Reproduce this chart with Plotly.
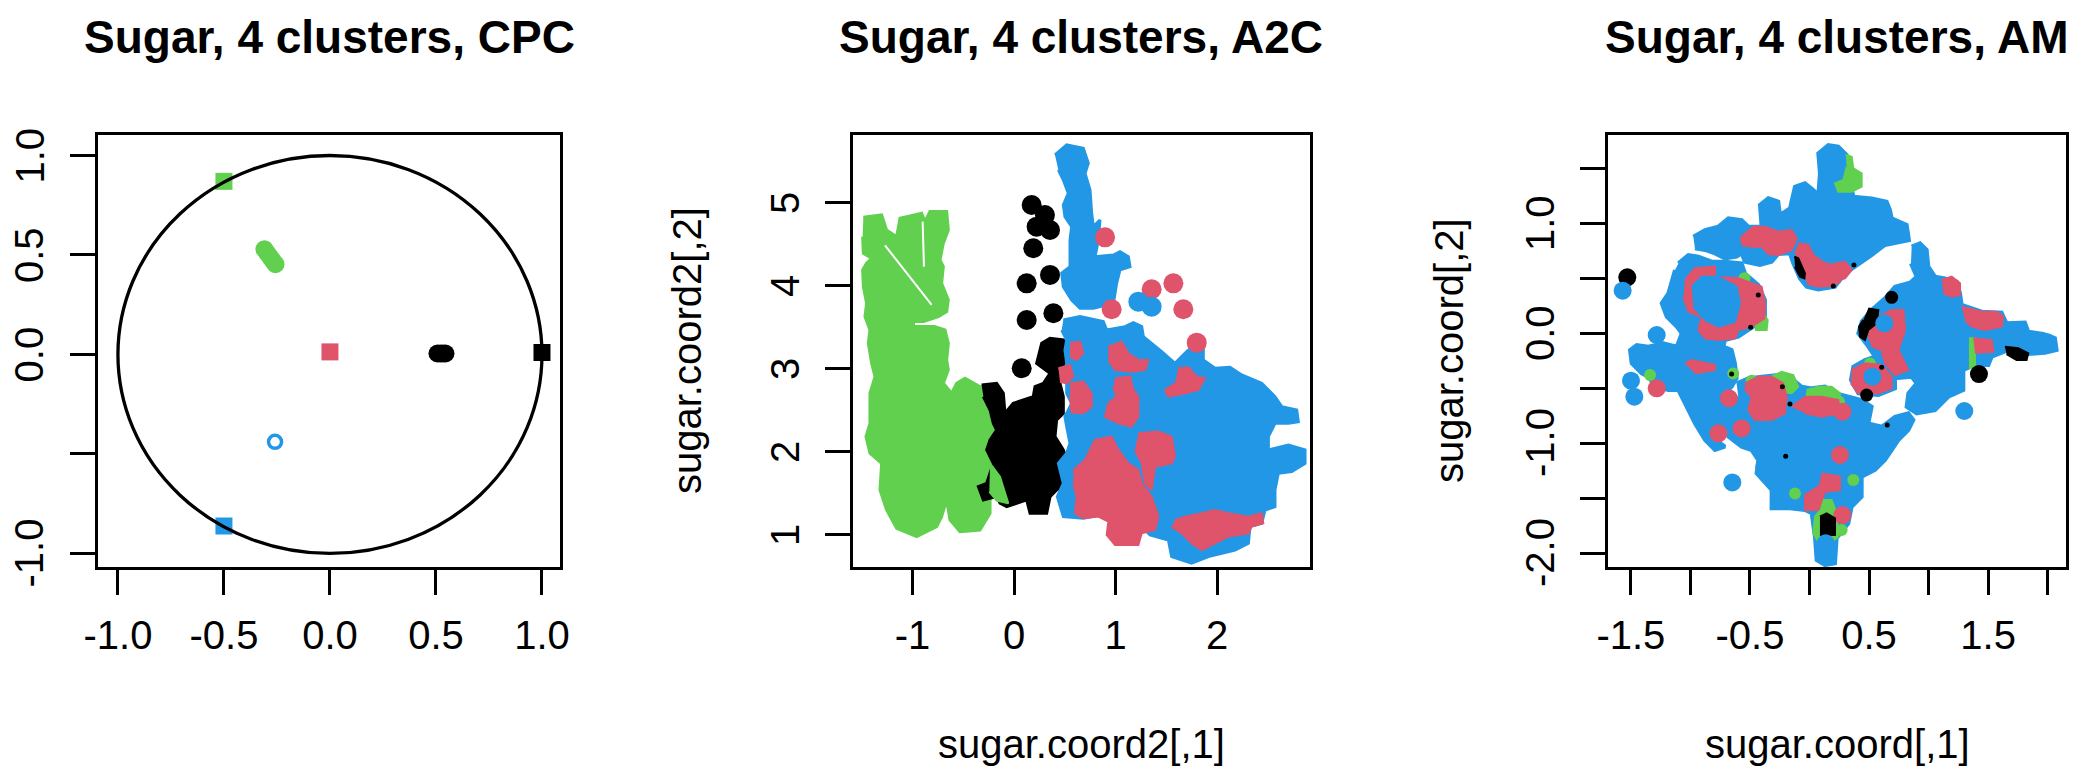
import plotly.graph_objects as go

FONT = "Liberation Sans, Arial, sans-serif"
BLACK = "#000000"
RED = "#DF536B"
GREEN = "#61D04F"
BLUE = "#2297E6"

# ---------------- panel 1: CPC ----------------
cpc_proto_x = [1.0, 0.0, -0.5, -0.5]
cpc_proto_y = [0.01, 0.013, 0.87, -0.862]
cpc_proto_col = [BLACK, RED, GREEN, BLUE]
cpc_green = [(-0.309, 0.529), (-0.296, 0.510), (-0.283, 0.491), (-0.270, 0.472), (-0.257, 0.454)]
cpc_black = [(0.507, 0.005), (0.520, 0.005), (0.533, 0.005), (0.545, 0.005)]
cpc_blue = [(-0.259, -0.439)]
cpc_xticks = [-1.0, -0.5, 0.0, 0.5, 1.0]
cpc_xlabels = ["-1.0", "-0.5", "0.0", "0.5", "1.0"]
cpc_yticks = [-1.0, -0.5, 0.0, 0.5, 1.0]
cpc_ylabels = ["-1.0", "", "0.0", "0.5", "1.0"]

# ---------------- panel 2: A2C ----------------
a2c_green_main = [(-1.484, 4.827), (-1.304, 4.855), (-1.255, 4.675), (-1.156, 4.594), (-1.123, 4.815),
                  (-0.910, 4.876), (-0.877, 4.775), (-0.828, 4.896), (-0.663, 4.896), (-0.647, 4.675),
                  (-0.696, 4.514), (-0.729, 4.313), (-0.696, 4.233), (-0.713, 4.032), (-0.647, 3.831),
                  (-0.663, 3.691), (-0.745, 3.631), (-0.943, 3.550), (-0.975, 3.510), (-0.828, 3.530),
                  (-0.680, 3.470), (-0.647, 3.309), (-0.663, 3.108), (-0.647, 2.988), (-0.696, 2.827),
                  (-0.614, 2.707), (-0.565, 2.827), (-0.483, 2.888), (-0.335, 2.787), (-0.269, 2.667),
                  (-0.204, 2.506), (-0.171, 2.265), (-0.154, 2.104), (-0.204, 1.863), (-0.236, 1.502),
                  (-0.236, 1.261), (-0.335, 1.060), (-0.532, 1.040), (-0.631, 1.181), (-0.663, 1.422),
                  (-0.713, 1.221), (-0.762, 1.100), (-0.959, 0.980), (-1.156, 1.080), (-1.255, 1.301),
                  (-1.320, 1.542), (-1.304, 1.863), (-1.419, 1.984), (-1.458, 2.185), (-1.419, 2.345),
                  (-1.419, 2.707), (-1.369, 2.908), (-1.402, 3.068), (-1.435, 3.309), (-1.419, 3.470),
                  (-1.468, 3.631), (-1.452, 3.791), (-1.484, 3.992), (-1.491, 4.193), (-1.452, 4.273),
                  (-1.402, 4.333), (-1.484, 4.394), (-1.491, 4.594)]
a2c_green_tail = [(-0.236, 1.863), (-0.138, 1.703), (-0.056, 1.382), (-0.171, 1.414), (-0.243, 1.522)]
a2c_green_gaps = [[(-1.271, 4.490), (-0.811, 3.771)],
                  [(-0.900, 4.775), (-0.887, 4.233)],
                  [(-0.975, 3.542), (-0.680, 3.542)]]
a2c_black_main = [(-0.319, 2.807), (-0.171, 2.827), (-0.105, 2.707), (-0.089, 2.466), (-0.007, 2.586),
                  (0.092, 2.627), (0.190, 2.667), (0.207, 2.787), (0.289, 2.827), (0.355, 2.948),
                  (0.223, 3.068), (0.273, 3.309), (0.355, 3.369), (0.486, 3.349), (0.535, 3.229),
                  (0.519, 2.988), (0.453, 2.827), (0.486, 2.667), (0.486, 2.466), (0.420, 2.386),
                  (0.404, 2.185), (0.486, 2.024), (0.535, 1.863), (0.519, 1.622), (0.420, 1.542),
                  (0.355, 1.462), (0.322, 1.261), (0.158, 1.261), (0.125, 1.422), (0.026, 1.382),
                  (-0.072, 1.341), (-0.138, 1.382), (-0.171, 1.462), (-0.302, 1.422), (-0.351, 1.582),
                  (-0.269, 1.622), (-0.204, 1.863), (-0.269, 2.024), (-0.236, 2.145), (-0.171, 2.265),
                  (-0.204, 2.345), (-0.236, 2.506), (-0.302, 2.667)]
a2c_black_dots = [(0.174, 4.976), (0.305, 4.855), (0.355, 4.675), (0.223, 4.715), (0.190, 4.454),
                  (0.125, 4.032), (0.355, 4.133), (0.125, 3.590), (0.388, 3.671), (0.076, 3.008)]
a2c_blue_arm = [(0.404, 5.578), (0.519, 5.699), (0.683, 5.659), (0.732, 5.478), (0.700, 5.357),
                (0.749, 5.157), (0.765, 4.876), (0.782, 4.715), (0.847, 4.795), (0.831, 4.554),
                (0.798, 4.353), (0.979, 4.373), (1.044, 4.414), (1.126, 4.353), (1.143, 4.233),
                (1.044, 4.193), (1.011, 4.032), (0.979, 3.791), (0.782, 3.731), (0.650, 3.731),
                (0.568, 3.831), (0.486, 3.992), (0.470, 4.153), (0.552, 4.233), (0.552, 4.554),
                (0.568, 4.715), (0.502, 4.835), (0.486, 4.976), (0.535, 5.116), (0.486, 5.277),
                (0.437, 5.398)]
a2c_blue_main = [(0.486, 3.590), (0.650, 3.631), (0.880, 3.570), (0.913, 3.470), (1.094, 3.510),
                 (1.176, 3.558), (1.258, 3.510), (1.274, 3.390), (1.455, 3.209), (1.586, 3.068),
                 (1.701, 3.209), (1.800, 3.309), (1.865, 3.269), (1.865, 3.108), (1.980, 3.008),
                 (2.128, 3.020), (2.243, 2.928), (2.440, 2.827), (2.571, 2.667), (2.637, 2.546),
                 (2.785, 2.506), (2.801, 2.365), (2.703, 2.345), (2.571, 2.345), (2.506, 2.185),
                 (2.506, 2.024), (2.703, 2.084), (2.867, 2.024), (2.867, 1.863), (2.736, 1.763),
                 (2.604, 1.743), (2.571, 1.542), (2.571, 1.341), (2.473, 1.301), (2.440, 1.141),
                 (2.325, 1.100), (2.309, 0.900), (2.177, 0.819), (1.915, 0.739), (1.750, 0.659),
                 (1.553, 0.739), (1.521, 0.940), (1.340, 1.000), (1.176, 1.201), (0.946, 1.261),
                 (0.683, 1.201), (0.486, 1.221), (0.427, 1.462), (0.486, 1.622), (0.437, 1.863),
                 (0.519, 1.984), (0.552, 2.104), (0.519, 2.305), (0.502, 2.426), (0.568, 2.586),
                 (0.519, 2.707), (0.519, 2.827), (0.486, 2.908), (0.519, 3.068), (0.502, 3.229),
                 (0.519, 3.349), (0.470, 3.470)]
a2c_red_1 = [(0.585, 1.783), (0.700, 1.904), (0.798, 2.145), (0.962, 2.185), (1.028, 2.024), (1.126, 1.863),
             (1.225, 1.783), (1.258, 1.622), (1.356, 1.462), (1.422, 1.221), (1.389, 1.060), (1.258, 1.020),
             (1.225, 0.880), (0.995, 0.880), (0.913, 1.000), (0.929, 1.161), (0.831, 1.221), (0.683, 1.201),
             (0.601, 1.261), (0.617, 1.462), (0.585, 1.622)]
a2c_red_2 = [(1.586, 1.181), (1.685, 1.221), (1.849, 1.261), (1.980, 1.301), (2.112, 1.261), (2.309, 1.221),
             (2.440, 1.261), (2.456, 1.141), (2.341, 1.100), (2.309, 1.020), (2.112, 0.980), (1.980, 0.900),
             (1.849, 0.819), (1.750, 0.900), (1.652, 1.020), (1.553, 1.100)]
a2c_red_3 = [(0.929, 3.269), (1.061, 3.329), (1.126, 3.189), (1.225, 3.108), (1.323, 3.108), (1.291, 2.988),
             (1.159, 2.968), (0.995, 2.988), (0.929, 3.108)]
a2c_red_4 = [(0.995, 2.888), (1.143, 2.908), (1.176, 2.747), (1.225, 2.667), (1.225, 2.426), (1.159, 2.305),
             (1.028, 2.345), (0.897, 2.426), (0.929, 2.586), (1.011, 2.667), (0.979, 2.787)]
a2c_red_5 = [(0.552, 2.827), (0.683, 2.847), (0.765, 2.707), (0.765, 2.546), (0.683, 2.466), (0.568, 2.474),
             (0.552, 2.667)]
a2c_red_6 = [(0.437, 3.008), (0.552, 3.048), (0.585, 2.908), (0.519, 2.827), (0.453, 2.847)]
a2c_red_7 = [(0.552, 3.309), (0.650, 3.329), (0.683, 3.189), (0.617, 3.108), (0.552, 3.149)]
a2c_red_8 = [(1.619, 3.008), (1.718, 3.020), (1.800, 2.908), (1.882, 2.888), (1.816, 2.747), (1.685, 2.707),
             (1.521, 2.667), (1.488, 2.747), (1.586, 2.827)]
a2c_red_9 = [(1.225, 2.225), (1.422, 2.245), (1.553, 2.185), (1.586, 1.944), (1.553, 1.863), (1.389, 1.823),
             (1.356, 1.542), (1.291, 1.622), (1.258, 1.863), (1.192, 2.024)]
a2c_red_dots = [(0.897, 4.586), (1.356, 3.960), (1.570, 4.032), (1.668, 3.719), (1.800, 3.317), (0.962, 3.719)]
a2c_blue_dots = [(1.225, 3.811), (1.356, 3.751)]
a2c_xticks = [-1, 0, 1, 2]
a2c_yticks = [1, 2, 3, 4, 5]
a2c_ylabels = ["1", "2", "3", "4", "5"]

# ---------------- panel 3: AM ----------------
am_blue_top = [(-0.975, 0.876), (-0.877, 0.936), (-0.765, 0.967), (-0.681, 1.042), (-0.570, 1.027),
               (-0.514, 0.967), (-0.402, 0.967), (-0.416, 1.164), (-0.346, 1.224), (-0.262, 1.194),
               (-0.248, 1.073), (-0.164, 1.133), (-0.122, 1.330), (-0.038, 1.361), (0.032, 1.300),
               (0.074, 1.255), (0.088, 1.452), (0.074, 1.633), (0.158, 1.709), (0.242, 1.694),
               (0.312, 1.618), (0.340, 1.391), (0.368, 1.239), (0.522, 1.224), (0.648, 1.194),
               (0.676, 1.118), (0.690, 1.042), (0.816, 0.982), (0.835, 0.845), (0.634, 0.800),
               (0.522, 0.709), (0.438, 0.648), (0.340, 0.573), (0.256, 0.482), (0.214, 0.421),
               (0.074, 0.397), (-0.024, 0.421), (-0.080, 0.497), (-0.136, 0.633), (-0.164, 0.724),
               (-0.262, 0.718), (-0.318, 0.648), (-0.416, 0.618), (-0.542, 0.648), (-0.570, 0.724),
               (-0.612, 0.694), (-0.710, 0.679), (-0.794, 0.724), (-0.877, 0.755), (-0.962, 0.770)]
am_blue_left = [(-1.101, 0.633), (-1.017, 0.709), (-0.933, 0.694), (-0.821, 0.648), (-0.710, 0.648),
                (-0.570, 0.633), (-0.542, 0.542), (-0.430, 0.436), (-0.374, 0.300), (-0.374, 0.148),
                (-0.430, 0.088), (-0.514, 0.027), (-0.598, -0.033), (-0.710, -0.064), (-0.723, -0.124),
                (-0.654, -0.155), (-0.626, -0.276), (-0.612, -0.412), (-0.654, -0.488), (-0.710, -0.548),
                (-0.654, -0.670), (-0.681, -0.821), (-0.794, -0.882), (-0.821, -0.942), (-0.765, -0.988),
                (-0.710, -1.033), (-0.794, -1.064), (-0.877, -0.973), (-0.962, -0.821), (-1.017, -0.700),
                (-1.101, -0.518), (-1.185, -0.518), (-1.297, -0.488), (-1.353, -0.397), (-1.409, -0.367),
                (-1.493, -0.276), (-1.507, -0.155), (-1.451, -0.109), (-1.353, -0.124), (-1.227, -0.094),
                (-1.115, -0.124), (-1.073, -0.003), (-1.115, 0.058), (-1.199, 0.148), (-1.241, 0.270),
                (-1.185, 0.361), (-1.157, 0.482), (-1.129, 0.573)]
am_blue_bottom = [(-0.612, -0.458), (-0.514, -0.412), (-0.402, -0.397), (-0.262, -0.382), (-0.150, -0.412),
                  (-0.066, -0.488), (0.018, -0.503), (0.130, -0.488), (0.214, -0.548), (0.326, -0.579),
                  (0.438, -0.609), (0.522, -0.670), (0.494, -0.821), (0.606, -0.852), (0.718, -0.761),
                  (0.830, -0.730), (0.872, -0.791), (0.830, -0.882), (0.746, -0.973), (0.690, -1.064),
                  (0.634, -1.155), (0.550, -1.245), (0.438, -1.306), (0.438, -1.488), (0.354, -1.579),
                  (0.326, -1.730), (0.228, -1.867), (0.214, -2.094), (0.130, -2.109), (0.060, -2.064),
                  (0.046, -1.852), (0.018, -1.639), (-0.038, -1.609), (-0.164, -1.594), (-0.318, -1.594),
                  (-0.318, -1.427), (-0.444, -1.276), (-0.430, -1.155), (-0.486, -1.064), (-0.570, -1.033),
                  (-0.681, -0.942), (-0.710, -0.821), (-0.654, -0.670), (-0.598, -0.579)]
am_blue_right = [(0.858, 0.785), (0.928, 0.815), (0.984, 0.755), (0.998, 0.603), (1.054, 0.512),
                 (1.138, 0.497), (1.236, 0.467), (1.264, 0.361), (1.278, 0.255), (1.446, 0.194),
                 (1.613, 0.185), (1.655, 0.088), (1.809, 0.094), (1.837, 0.012), (1.963, -0.009),
                 (2.061, -0.048), (2.075, -0.155), (1.977, -0.179), (1.837, -0.191), (1.669, -0.155),
                 (1.530, -0.215), (1.502, -0.291), (1.390, -0.291), (1.292, -0.336), (1.292, -0.518),
                 (1.166, -0.579), (1.054, -0.700), (0.900, -0.730), (0.816, -0.670), (0.830, -0.548),
                 (0.900, -0.458), (0.858, -0.397), (0.718, -0.412), (0.718, -0.503), (0.578, -0.564),
                 (0.410, -0.548), (0.348, -0.427), (0.368, -0.306), (0.466, -0.245), (0.550, -0.215),
                 (0.494, -0.124), (0.410, -0.003), (0.438, 0.103), (0.522, 0.209), (0.634, 0.315),
                 (0.718, 0.421), (0.844, 0.458), (0.900, 0.512), (0.852, 0.633)]
am_blue_left_core = [(-0.989, 0.421), (-0.905, 0.512), (-0.765, 0.512), (-0.612, 0.421), (-0.584, 0.270),
                     (-0.626, 0.103), (-0.765, 0.058), (-0.877, 0.118), (-0.975, 0.239)]
am_blue_dots = [(-1.569, 0.385), (-1.283, -0.018), (-1.499, -0.433), (-1.471, -0.579), (-0.648, -1.358),
                (1.300, -0.709), (0.528, -0.397), (0.628, 0.088), (0.136, -1.912), (0.136, -2.018),
                (-0.242, -1.503), (-0.379, -1.221), (1.997, -0.085)]

am_green_top = [(0.304, 1.618), (0.354, 1.603), (0.368, 1.497), (0.438, 1.452), (0.438, 1.330),
                (0.354, 1.285), (0.242, 1.285), (0.214, 1.361), (0.284, 1.391), (0.312, 1.512)]
am_green_spike = [(0.102, -1.518), (0.186, -1.518), (0.228, -1.639), (0.242, -1.852), (0.186, -1.897),
                  (0.074, -1.897), (0.032, -1.821), (0.046, -1.670), (0.088, -1.609)]
am_green_b1 = [(-0.318, -0.397), (-0.234, -0.352), (-0.136, -0.382), (-0.094, -0.488), (-0.150, -0.548),
               (-0.262, -0.533), (-0.304, -0.473)]
am_green_b2 = [(-0.024, -0.518), (0.074, -0.488), (0.186, -0.488), (0.256, -0.548), (0.256, -0.670),
               (0.130, -0.655), (0.018, -0.670), (-0.038, -0.609)]
am_green_l = [(-0.463, 0.148), (-0.388, 0.179), (-0.351, 0.118), (-0.360, 0.027), (-0.458, 0.027)]
am_green_strip = [(1.339, -0.048), (1.390, -0.048), (1.390, -0.321), (1.339, -0.321)]
am_green_dots = [(-0.547, 0.497), (-0.640, -0.367), (-1.339, -0.382), (-0.486, -0.433), (0.508, -0.276),
                 (0.248, -0.624), (0.368, -1.336), (0.270, -1.791), (-0.122, -1.458)]

am_red_top1 = [(-0.584, 0.861), (-0.472, 0.967), (-0.374, 0.967), (-0.262, 0.921), (-0.150, 0.936),
               (-0.108, 0.861), (-0.150, 0.755), (-0.262, 0.709), (-0.346, 0.718), (-0.402, 0.785),
               (-0.486, 0.785), (-0.570, 0.800)]
am_red_top2 = [(-0.094, 0.815), (-0.010, 0.800), (0.032, 0.709), (0.130, 0.633), (0.256, 0.618),
               (0.256, 0.467), (0.186, 0.427), (0.074, 0.421), (-0.010, 0.445), (-0.038, 0.542),
               (-0.080, 0.648), (-0.122, 0.739)]
am_red_top3 = [(0.214, 0.633), (0.298, 0.648), (0.354, 0.573), (0.298, 0.497), (0.214, 0.482)]
am_red_left = [(-1.045, 0.482), (-0.962, 0.588), (-0.794, 0.603), (-0.794, 0.512), (-0.598, 0.497),
               (-0.514, 0.467), (-0.402, 0.421), (-0.374, 0.270), (-0.379, 0.133), (-0.486, 0.058),
               (-0.598, 0.027), (-0.626, -0.048), (-0.765, -0.064), (-0.877, -0.048), (-0.933, 0.027),
               (-0.905, 0.148), (-1.017, 0.194), (-1.059, 0.330)]
am_red_left2 = [(-1.045, -0.276), (-0.989, -0.245), (-0.794, -0.291), (-0.794, -0.336), (-0.962, -0.367)]
am_red_bottom1 = [(-0.542, -0.458), (-0.430, -0.397), (-0.318, -0.397), (-0.220, -0.458), (-0.192, -0.579),
                  (-0.206, -0.730), (-0.318, -0.791), (-0.458, -0.791), (-0.514, -0.700), (-0.486, -0.579),
                  (-0.542, -0.518)]
am_red_bottom2 = [(-0.150, -0.670), (-0.038, -0.579), (0.102, -0.579), (0.242, -0.609), (0.256, -0.730),
                  (0.102, -0.761), (-0.038, -0.730)]
am_red_bottom3 = [(0.102, -1.276), (0.256, -1.306), (0.256, -1.427), (0.130, -1.442), (0.074, -1.609),
                  (-0.038, -1.609), (-0.038, -1.473), (0.074, -1.397)]
am_red_right1 = [(0.466, 0.027), (0.578, 0.148), (0.690, 0.209), (0.788, 0.209), (0.802, 0.027),
                 (0.746, -0.155), (0.830, -0.336), (0.718, -0.382), (0.634, -0.276), (0.606, -0.155),
                 (0.522, -0.124)]
am_red_right2 = [(1.110, 0.482), (1.194, 0.512), (1.264, 0.452), (1.264, 0.345), (1.194, 0.330), (1.124, 0.361)]
am_red_right3 = [(1.278, 0.239), (1.446, 0.194), (1.571, 0.194), (1.627, 0.148), (1.613, 0.058),
                 (1.474, 0.027), (1.362, 0.058), (1.306, 0.118)]
am_red_right4 = [(1.376, -0.048), (1.530, -0.064), (1.544, -0.170), (1.390, -0.179)]
am_red_right5 = [(0.354, -0.336), (0.466, -0.276), (0.606, -0.291), (0.690, -0.397), (0.690, -0.503),
                 (0.578, -0.548), (0.410, -0.548), (0.348, -0.458)]
am_red_dots = [(0.276, -0.715), (0.256, -1.109), (0.276, -1.655), (-1.283, -0.503), (-0.765, -0.912),
               (-0.676, -0.594), (-0.570, -0.867)]

am_black_streak = [(-0.127, 0.694), (-0.094, 0.679), (-0.038, 0.542), (-0.043, 0.497), (-0.080, 0.512),
                   (-0.122, 0.603)]
am_black_r1 = [(0.494, 0.224), (0.578, 0.209), (0.564, 0.088), (0.494, 0.027), (0.466, -0.064),
               (0.424, -0.033), (0.416, 0.058), (0.452, 0.118)]
am_black_r2 = [(1.641, -0.124), (1.753, -0.139), (1.837, -0.185), (1.823, -0.245), (1.739, -0.245),
               (1.655, -0.191)]
am_black_spike = [(0.088, -1.670), (0.144, -1.639), (0.214, -1.685), (0.214, -1.836), (0.088, -1.836)]
am_black_big = [(-1.530, 0.506), (1.423, -0.373)]
am_black_mid = [(0.690, 0.324), (0.480, -0.564)]
am_black_small = [(-0.430, 0.345), (-0.494, 0.052), (-0.654, -0.373), (-0.228, -0.488), (-0.164, -0.645),
                  (0.200, 0.427), (0.606, -0.312), (0.653, -0.836), (0.373, 0.618), (-0.200, -1.120)]

am_xticks = [-1.5, -1.0, -0.5, 0.0, 0.5, 1.0, 1.5, 2.0]
am_xlabels = ["-1.5", "", "-0.5", "", "0.5", "", "1.5", ""]
am_yticks = [-2.0, -1.5, -1.0, -0.5, 0.0, 0.5, 1.0, 1.5]
am_ylabels = ["-2.0", "", "-1.0", "", "0.0", "", "1.0", ""]


fig = go.Figure()


def add_fill(shape, color, xa, ya, lw=2):
    # one closed region per trace, so overlapping regions never punch holes
    fig.add_trace(go.Scatter(x=[p[0] for p in shape], y=[p[1] for p in shape], mode="lines",
                             fill="toself", fillcolor=color, line=dict(color=color, width=lw),
                             xaxis=xa, yaxis=ya, hoverinfo="skip", showlegend=False))


def add_dots(pts, color, size, xa, ya, symbol="circle", lw=0):
    fig.add_trace(go.Scatter(x=[p[0] for p in pts], y=[p[1] for p in pts], mode="markers",
                             marker=dict(color=color, size=size, symbol=symbol,
                                         line=dict(width=lw, color=color)),
                             xaxis=xa, yaxis=ya, hoverinfo="skip", showlegend=False))


def add_lines(segs, color, width, xa, ya):
    xs, ys = [], []
    for s in segs:
        xs += [p[0] for p in s] + [None]
        ys += [p[1] for p in s] + [None]
    fig.add_trace(go.Scatter(x=xs, y=ys, mode="lines", line=dict(color=color, width=width),
                             xaxis=xa, yaxis=ya, hoverinfo="skip", showlegend=False))


# panel 1
fig.add_trace(go.Scatter(x=cpc_proto_x, y=cpc_proto_y, mode="markers",
                         marker=dict(symbol="square", size=17, color=cpc_proto_col),
                         xaxis="x", yaxis="y", hoverinfo="skip", showlegend=False))
add_dots(cpc_green, GREEN, 18, "x", "y")
add_dots(cpc_black, BLACK, 18, "x", "y")
add_dots(cpc_blue, BLUE, 13, "x", "y", symbol="circle-open", lw=3.5)

# panel 2
add_fill(a2c_green_main, GREEN, "x2", "y2", lw=3)
add_lines(a2c_green_gaps, "white", 2, "x2", "y2")
add_fill(a2c_black_main, BLACK, "x2", "y2", lw=3)
add_dots(a2c_black_dots, BLACK, 20, "x2", "y2")
add_fill(a2c_green_tail, GREEN, "x2", "y2")
for s in (a2c_blue_arm, a2c_blue_main):
    add_fill(s, BLUE, "x2", "y2", lw=3)
for s in (a2c_red_1, a2c_red_2, a2c_red_3, a2c_red_4, a2c_red_5, a2c_red_6, a2c_red_7,
          a2c_red_8, a2c_red_9):
    add_fill(s, RED, "x2", "y2")
add_dots(a2c_red_dots, RED, 20, "x2", "y2")
add_dots(a2c_blue_dots, BLUE, 20, "x2", "y2")

# panel 3
for s in (am_blue_top, am_blue_left, am_blue_bottom, am_blue_right):
    add_fill(s, BLUE, "x3", "y3", lw=4)
for s in (am_green_top, am_green_spike, am_green_b1, am_green_b2, am_green_l, am_green_strip):
    add_fill(s, GREEN, "x3", "y3")
add_dots(am_green_dots, GREEN, 12, "x3", "y3")
for s in (am_red_top1, am_red_top2, am_red_top3, am_red_left, am_red_left2, am_red_bottom1,
          am_red_bottom2, am_red_bottom3, am_red_right1, am_red_right2, am_red_right3,
          am_red_right4, am_red_right5):
    add_fill(s, RED, "x3", "y3")
add_dots(am_red_dots, RED, 18, "x3", "y3")
for s in (am_black_streak, am_black_r1, am_black_r2, am_black_spike):
    add_fill(s, BLACK, "x3", "y3")
add_dots(am_black_big, BLACK, 18, "x3", "y3")
add_dots(am_black_mid, BLACK, 13, "x3", "y3")
add_fill(am_blue_left_core, BLUE, "x3", "y3")
add_dots(am_blue_dots, BLUE, 18, "x3", "y3")
add_dots(am_black_small, BLACK, 5, "x3", "y3")

W, H = 2098, 780
PAD = 8  # page body margin that shifts the figure in the browser


def fx(px):
    return (px - PAD) / W


def fy(py):
    return 1 - (py - PAD) / H


tick_font = dict(family=FONT, size=40, color="black")
common = dict(showline=True, linecolor="black", linewidth=3.3, mirror=True, ticks="outside",
              ticklen=25, tickwidth=3.3, tickcolor="black", showgrid=False, zeroline=False,
              tickfont=tick_font, fixedrange=True, automargin=False)
xcommon = dict(common, ticklabelstandoff=6)
# y labels are drawn as rotated annotations so they all sit on one line like R does
ycommon = dict(common, showticklabels=False)
ydom = [fy(567), fy(135)]

fig.update_layout(
    width=W, height=H, autosize=False,
    margin=dict(l=0, r=0, t=0, b=0),
    paper_bgcolor="white", plot_bgcolor="white",
    xaxis=dict(xcommon, domain=[fx(98), fx(560)], range=[-1.094, 1.085],
               tickvals=cpc_xticks, ticktext=cpc_xlabels),
    yaxis=dict(ycommon, domain=ydom, range=[-1.068, 1.103], tickvals=cpc_yticks),
    xaxis2=dict(xcommon, domain=[fx(853), fx(1310)], range=[-1.586, 2.916], anchor="y2",
                tickvals=a2c_xticks, ticktext=[str(v) for v in a2c_xticks]),
    yaxis2=dict(ycommon, domain=ydom, range=[0.614, 5.819], anchor="x2", tickvals=a2c_yticks),
    xaxis3=dict(xcommon, domain=[fx(1608), fx(2066)], range=[-1.692, 2.154], anchor="y3",
                tickvals=am_xticks, ticktext=am_xlabels),
    yaxis3=dict(ycommon, domain=ydom, range=[-2.127, 1.80], anchor="x3", tickvals=am_yticks),
    shapes=[dict(type="circle", xref="x", yref="y", x0=-1, x1=1, y0=-1, y1=1,
                 line=dict(color="black", width=3.3), layer="above")],
)

# y tick labels, one line left of each frame
for yref, vals, labels, cx in (("y", cpc_yticks, cpc_ylabels, 29),
                               ("y2", a2c_yticks, a2c_ylabels, 785),
                               ("y3", am_yticks, am_ylabels, 1540)):
    for v, t in zip(vals, labels):
        if t:
            fig.add_annotation(text=t, x=fx(cx), y=v, xref="paper", yref=yref,
                               xanchor="center", yanchor="middle", textangle=-90,
                               showarrow=False, font=tick_font)

title_font = dict(family=FONT, size=46, color="black", weight="bold")
label_font = dict(family=FONT, size=40, color="black")
titles = [("Sugar, 4 clusters, CPC", 329), ("Sugar, 4 clusters, A2C", 1081),
          ("Sugar, 4 clusters, AM", 1837)]
for txt, cx in titles:
    fig.add_annotation(text=txt, x=fx(cx), y=fy(37), xref="paper", yref="paper",
                       xanchor="center", yanchor="middle", showarrow=False, font=title_font)

axis_titles = [("sugar.coord2[,1]", fx(1081), fy(744), 0),
               ("sugar.coord2[,2]", fx(687), fy(351), -90),
               ("sugar.coord[,1]", fx(1837), fy(744), 0),
               ("sugar.coord[,2]", fx(1449), fy(351), -90)]
for txt, x, y, ang in axis_titles:
    fig.add_annotation(text=txt, x=x, y=y, xref="paper", yref="paper", xanchor="center",
                       yanchor="middle", showarrow=False, textangle=ang, font=label_font)

fig.write_html("out.html")
